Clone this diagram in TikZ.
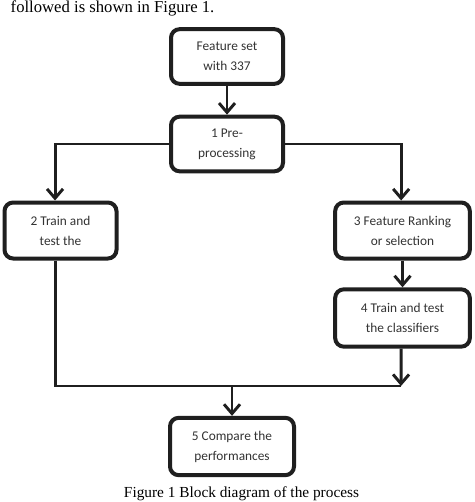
\documentclass[tikz,border=0pt]{standalone}
\usepackage{fontspec}
\setmainfont{Carlito}
\newfontfamily\capfont{Liberation Serif}
\usetikzlibrary{arrows.meta}
\begin{document}
\begin{tikzpicture}[x=0.75pt,y=-0.75pt,
  blockbox/.style={draw=black!88,line width=3pt,rounded corners=6.5pt,align=center,
    font=\fontsize{10}{15}\selectfont,text=black!80,inner sep=0pt},
  conn/.style={draw=black!88,line width=2.2pt},
  arr/.style={conn,-{Straight Barb[length=7pt,width=12pt,line width=2.2pt]}}]
\useasboundingbox (0,0) rectangle (474,502);
\clip (0,0) rectangle (474,502);
\fill[white] (0,0) rectangle (474,502);
\node[anchor=base west,font=\capfont\fontsize{12.5}{14}\selectfont] (top) at (6,12.5) {followed is shown in Figure 1.};
\node[blockbox,minimum width=84pt,minimum height=41pt] (fs) at (227,56.5) {Feature set\\with 337};
\node[blockbox,minimum width=84pt,minimum height=41pt] (pre) at (227,144) {1 Pre-\\processing};
\node[blockbox,minimum width=84pt,minimum height=42pt] (train) at (60.5,230.5) {2 Train and\\test the};
\node[blockbox,minimum width=101pt,minimum height=42pt] (rank) at (402.5,230.5) {3 Feature Ranking\\or selection};
\node[blockbox,minimum width=101pt,minimum height=43pt] (cls) at (402.5,318) {4 Train and test\\the classifiers};
\node[blockbox,minimum width=93pt,minimum height=43pt] (cmp) at (232,446.5) {5 Compare the\\performances};
\coordinate (j) at (232,386);
\coordinate (r) at (401,386);
\node[anchor=base,font=\capfont\fontsize{11.5}{14}\selectfont] (cap) at (241.5,497.5) {Figure 1 Block diagram of the process};
\draw[arr] (fs.south) -- (pre.north);
\draw[arr] (pre.west) -| ([xshift=-4.1pt]train.north);
\draw[arr] (pre.east) -| ([xshift=-1pt]rank.north);
\draw[arr] (rank.south) -- (cls.north);
\draw[arr] ([xshift=-1pt]cls.south) -- (r);
\draw[conn] ([xshift=-4.1pt]train.south) |- (r);
\draw[arr] (j) -- (cmp.north);
\end{tikzpicture}
\end{document}
